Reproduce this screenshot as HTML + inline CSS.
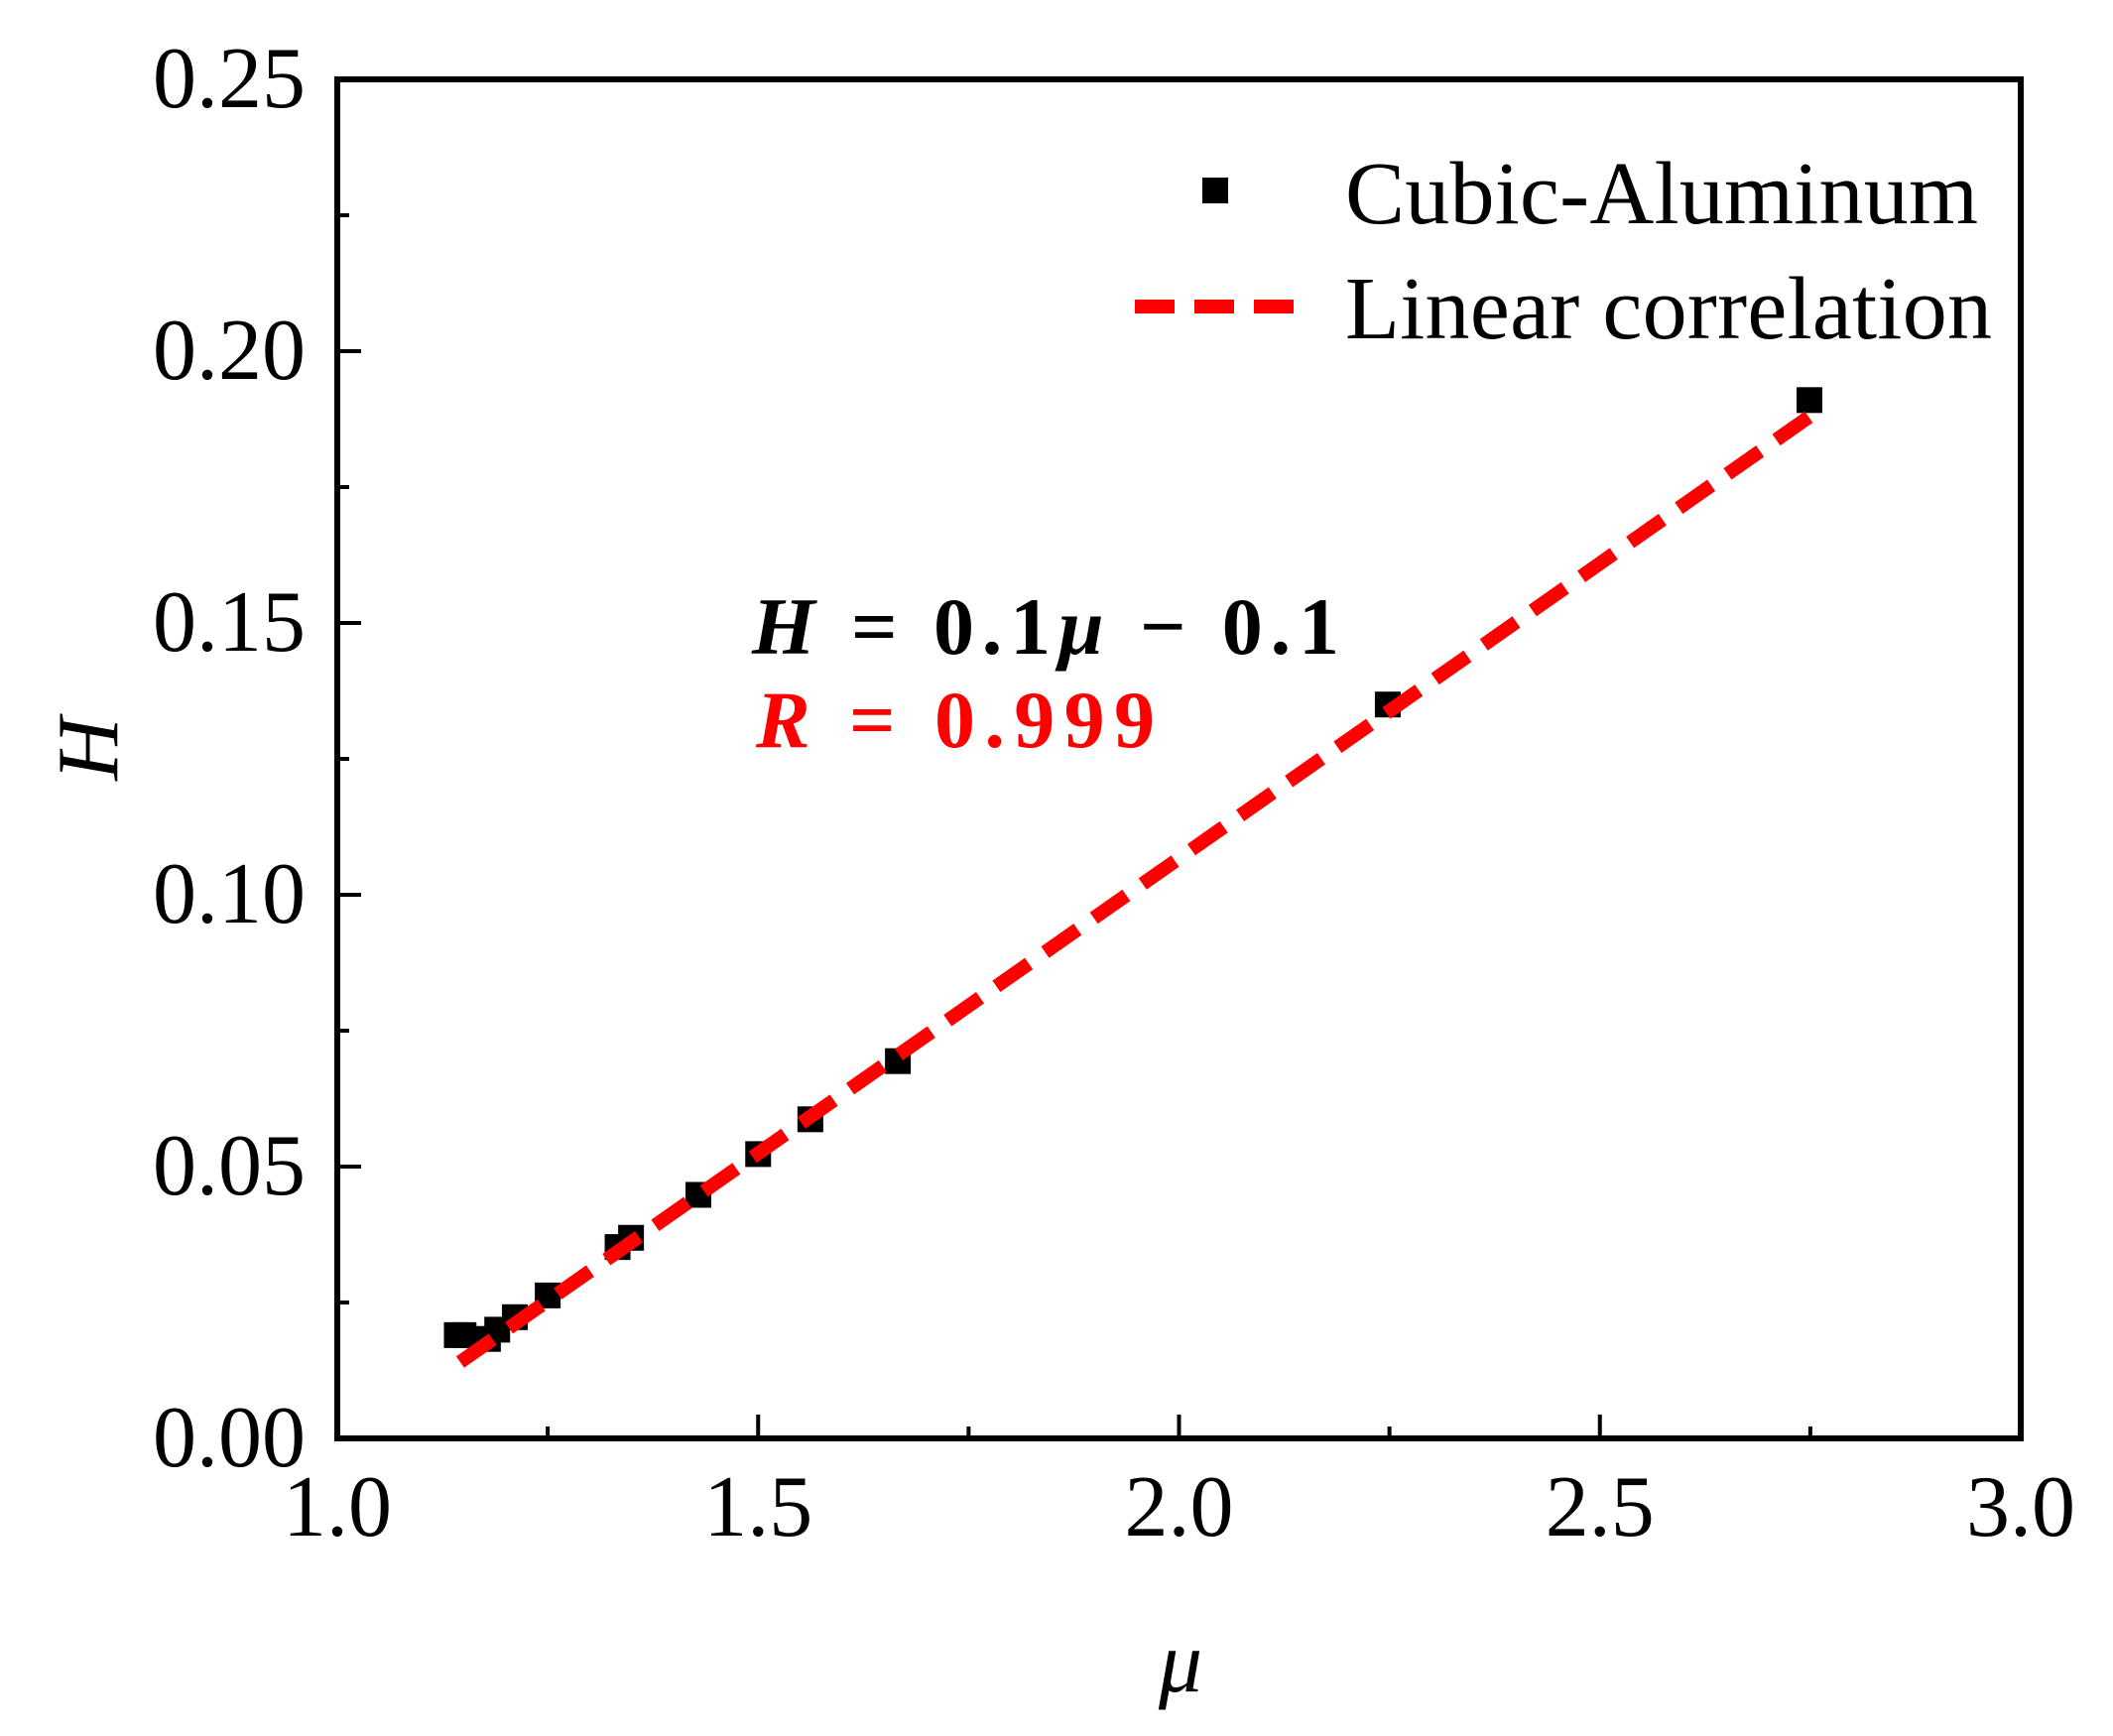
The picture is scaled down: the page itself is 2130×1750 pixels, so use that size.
<!DOCTYPE html>
<html><head><meta charset="utf-8"><style>
html,body{margin:0;padding:0;background:#fff;}
svg text{font-family:"Liberation Serif",serif;}
</style></head><body>
<svg id="chart" xmlns="http://www.w3.org/2000/svg" width="2130" height="1745" viewBox="0 0 2130 1745">
<g id="plot"></g>
</svg>
<script>
const xVals=[1.142,1.15,1.179,1.19,1.211,1.25,1.333,1.349,1.429,1.5,1.562,1.666,2.248,2.749];
const yVals=[0.019,0.019,0.0183,0.020,0.0223,0.0263,0.0352,0.0369,0.0448,0.0523,0.0587,0.0694,0.135,0.191];
const fitX=[1.146,2.762];
const fitSlope=[0.1085];
const fitIntercept=[-0.1103];
const xTicks=[1.0,1.5,2.0,2.5,3.0];
const xTickLabels=["1.0","1.5","2.0","2.5","3.0"];
const yTicks=[0,0.05,0.10,0.15,0.20,0.25];
const yTickLabels=["0.00","0.05","0.10","0.15","0.20","0.25"];

const L=340,R=2037,T=80,B=1450;
const sx=v=>L+(v-1)/(3-1)*(R-L);
const sy=v=>B-v/0.25*(B-T);
const NS="http://www.w3.org/2000/svg";
const g=document.getElementById('plot');
function mk(tag,attrs,parent){const e=document.createElementNS(NS,tag);for(const k in attrs)e.setAttribute(k,attrs[k]);(parent||g).appendChild(e);return e;}

xVals.forEach((x,i)=>{
  const r=mk('rect',{x:sx(x)-13,y:sy(yVals[i])-13,width:26,height:26,fill:'#000'});
  
  
});
const fl=mk('line',{x1:sx(fitX[0]),y1:sy(fitSlope[0]*fitX[0]+fitIntercept[0]),x2:sx(fitX[1]),y2:sy(fitSlope[0]*fitX[1]+fitIntercept[0]),stroke:'#ff0000','stroke-width':14,'stroke-dasharray':'40 20'});



const fr=mk('rect',{x:L,y:T,width:R-L,height:B-T,fill:'none',stroke:'#000','stroke-width':6});



xTicks.forEach((t,i)=>{
  const tk=mk('line',{x1:sx(t),x2:sx(t),y1:B,y2:B-24,stroke:'#000','stroke-width':4});
  
  
  if(i<xTicks.length-1){
    const m=(t+xTicks[i+1])/2;
    const mt=mk('line',{x1:sx(m),x2:sx(m),y1:B,y2:B-12,stroke:'#000','stroke-width':4});
    
    
  }
  const tx=mk('text',{x:sx(t),y:1548,'font-size':88,'text-anchor':'middle',fill:'#000'});
  tx.textContent=xTickLabels[i];
  
  
});
yTicks.forEach((t,i)=>{
  const tk=mk('line',{x1:L,x2:L+24,y1:sy(t),y2:sy(t),stroke:'#000','stroke-width':4});
  
  
  if(i<yTicks.length-1){
    const m=(t+yTicks[i+1])/2;
    const mt=mk('line',{x1:L,x2:L+12,y1:sy(m),y2:sy(m),stroke:'#000','stroke-width':4});
    
    
  }
  const tx=mk('text',{x:308,y:sy(t)+28,'font-size':88,'text-anchor':'end',fill:'#000'});
  tx.textContent=yTickLabels[i];
  
  
});
</script>
<svg style="position:absolute;left:0;top:0" width="2130" height="1745">
<text x="1190" y="1705" font-size="88" font-style="italic" text-anchor="middle" font-family="Liberation Serif,serif">μ</text>
<text transform="translate(118,755) rotate(-90)" font-size="88" font-style="italic" text-anchor="middle" font-family="Liberation Serif,serif">H</text>
<rect x="1212" y="179" width="26" height="26" fill="#000"/>
<text x="1356" y="225" font-size="90" font-family="Liberation Serif,serif" textLength="638">Cubic-Aluminum</text>
<line x1="1144" y1="309" x2="1308" y2="309" stroke="#ff0000" stroke-width="14" stroke-dasharray="40 20"/>
<text x="1356" y="341" font-size="90" font-family="Liberation Serif,serif" textLength="652">Linear correlation</text>
<text x="758" y="659" font-size="82" font-weight="bold" font-family="DejaVu Serif,serif" textLength="592"><tspan font-style="italic">H</tspan> = 0.1<tspan font-style="italic">μ</tspan> − 0.1</text>
<text x="762" y="753" font-size="82" font-weight="bold" fill="#ff0000" font-family="DejaVu Serif,serif" textLength="402"><tspan font-style="italic">R</tspan> = 0.999</text>
</svg>
</body></html>
